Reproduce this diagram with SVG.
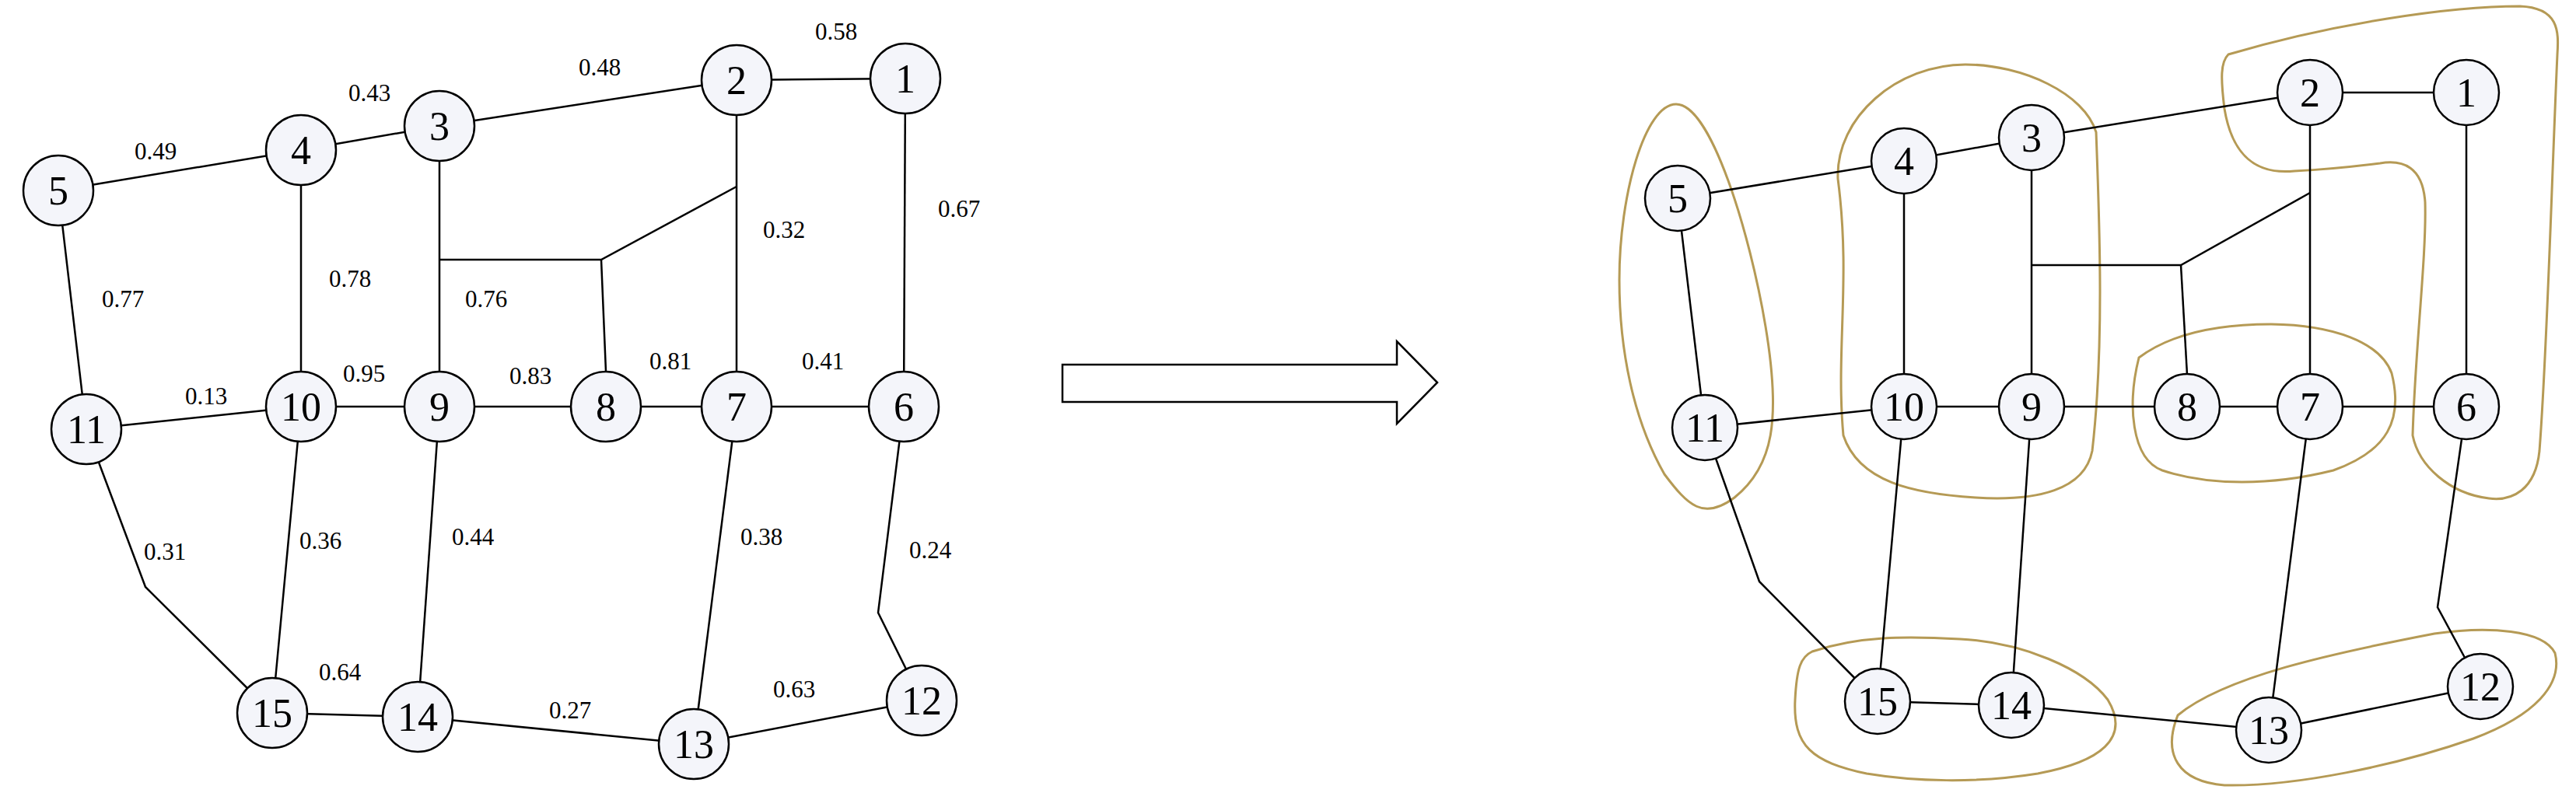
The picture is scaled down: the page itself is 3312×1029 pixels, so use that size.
<svg xmlns="http://www.w3.org/2000/svg" width="3312" height="1029" viewBox="0 0 3312 1029">
<style>
.e{stroke:#000;stroke-width:2.5;fill:none}
.n circle{fill:#f4f5fa;stroke:#000;stroke-width:2.5}
.n text{font-family:"Liberation Serif",serif;font-size:52px;text-anchor:middle;dominant-baseline:central}
.w{font-family:"Liberation Serif",serif;font-size:31px;text-anchor:middle;dominant-baseline:central}
.c{fill:none;stroke:#b59a55;stroke-width:3}
</style>
<rect width="3312" height="1029" fill="#fff"/>
<g id="connectors-left" class="e">
<line x1="947" y1="103" x2="1164" y2="101"/>
<line x1="565" y1="162" x2="947" y2="103"/>
<line x1="387" y1="193" x2="565" y2="162"/>
<line x1="75" y1="245" x2="387" y2="193"/>
<line x1="1164" y1="101" x2="1162" y2="523"/>
<line x1="947" y1="103" x2="947" y2="523"/>
<line x1="565" y1="162" x2="565" y2="523"/>
<line x1="387" y1="193" x2="387" y2="523"/>
<line x1="75" y1="245" x2="111" y2="552"/>
<polyline points="565,334 773,334 947,240"/>
<line x1="773" y1="334" x2="779" y2="478"/>
<line x1="111" y1="552" x2="387" y2="523"/>
<line x1="387" y1="523" x2="1162" y2="523"/>
<polyline points="111,552 187,755 350,917"/>
<line x1="387" y1="523" x2="350" y2="917"/>
<line x1="565" y1="523" x2="537" y2="922"/>
<line x1="947" y1="523" x2="892" y2="957"/>
<polyline points="1162,523 1129,788 1185,901"/>
<line x1="350" y1="917" x2="537" y2="922"/>
<line x1="537" y1="922" x2="892" y2="957"/>
<line x1="892" y1="957" x2="1185" y2="901"/>
</g>
<g id="weights">
<text class="w" x="1075" y="40">0.58</text><text class="w" x="771" y="86">0.48</text>
<text class="w" x="475" y="119">0.43</text><text class="w" x="200" y="194">0.49</text>
<text class="w" x="1233" y="268">0.67</text><text class="w" x="1008" y="295">0.32</text>
<text class="w" x="450" y="358">0.78</text><text class="w" x="625" y="384">0.76</text>
<text class="w" x="158" y="384">0.77</text><text class="w" x="468" y="480">0.95</text>
<text class="w" x="682" y="483">0.83</text><text class="w" x="862" y="464">0.81</text>
<text class="w" x="1058" y="464">0.41</text><text class="w" x="265" y="509">0.13</text>
<text class="w" x="212" y="709">0.31</text><text class="w" x="412" y="695">0.36</text>
<text class="w" x="608" y="690">0.44</text><text class="w" x="979" y="690">0.38</text>
<text class="w" x="1196" y="707">0.24</text><text class="w" x="437" y="864">0.64</text>
<text class="w" x="733" y="913">0.27</text><text class="w" x="1021" y="886">0.63</text>
</g>
<g id="L1" class="n"><circle cx="1164" cy="101" r="45"/><text x="1164" y="101">1</text></g>
<g id="L2" class="n"><circle cx="947" cy="103" r="45"/><text x="947" y="103">2</text></g>
<g id="L3" class="n"><circle cx="565" cy="162" r="45"/><text x="565" y="162">3</text></g>
<g id="L4" class="n"><circle cx="387" cy="193" r="45"/><text x="387" y="193">4</text></g>
<g id="L5" class="n"><circle cx="75" cy="245" r="45"/><text x="75" y="245">5</text></g>
<g id="L6" class="n"><circle cx="1162" cy="523" r="45"/><text x="1162" y="523">6</text></g>
<g id="L7" class="n"><circle cx="947" cy="523" r="45"/><text x="947" y="523">7</text></g>
<g id="L8" class="n"><circle cx="779" cy="523" r="45"/><text x="779" y="523">8</text></g>
<g id="L9" class="n"><circle cx="565" cy="523" r="45"/><text x="565" y="523">9</text></g>
<g id="L10" class="n"><circle cx="387" cy="523" r="45"/><text x="387" y="523">10</text></g>
<g id="L11" class="n"><circle cx="111" cy="552" r="45"/><text x="111" y="552">11</text></g>
<g id="L12" class="n"><circle cx="1185" cy="901" r="45"/><text x="1185" y="901">12</text></g>
<g id="L13" class="n"><circle cx="892" cy="957" r="45"/><text x="892" y="957">13</text></g>
<g id="L14" class="n"><circle cx="537" cy="922" r="45"/><text x="537" y="922">14</text></g>
<g id="L15" class="n"><circle cx="350" cy="917" r="45"/><text x="350" y="917">15</text></g>
<g id="arrow"><polygon points="1366,469 1796,469 1796,439 1848,492 1796,545 1796,517 1366,517" fill="#fff" stroke="#000" stroke-width="2.5"/></g>
<g id="clusters" class="c">
<path d="M2155,134 C2200,134 2250,300 2270,420 C2290,540 2280,600 2230,640 C2190,670 2170,650 2140,610 C2100,540 2082,450 2082,360 C2082,250 2115,134 2155,134 Z"/>
<path d="M2527,83 C2600,83 2680,120 2695,170 C2700,300 2705,450 2690,580 C2680,630 2620,645 2540,640 C2460,635 2390,620 2370,560 C2360,450 2380,360 2363,230 C2360,150 2440,83 2527,83 Z"/>
<path d="M2865,70 C3000,30 3150,8 3240,8 C3290,10 3290,40 3288,70 C3280,250 3275,450 3265,580 C3260,630 3230,645 3200,641 C3150,635 3110,600 3102,560 C3105,450 3120,330 3118,260 C3115,215 3090,205 3060,210 C3020,215 2990,218 2950,220 C2900,225 2870,200 2860,140 C2855,100 2855,80 2865,70 Z"/>
<path d="M2750,460 C2790,430 2850,417 2920,417 C3000,418 3060,440 3075,480 C3090,540 3070,580 3000,605 C2920,625 2840,625 2780,605 C2740,590 2735,520 2750,460 Z"/>
<path d="M2330,838 C2390,818 2450,818 2520,822 C2600,826 2680,860 2710,900 C2740,950 2700,980 2620,995 C2540,1008 2460,1005 2400,995 C2330,980 2305,960 2308,900 C2310,860 2315,845 2330,838 Z"/>
<path d="M2800,920 C2860,870 3000,840 3130,815 C3200,805 3270,810 3285,840 C3295,880 3260,920 3180,950 C3080,985 2950,1012 2860,1010 C2800,1005 2780,970 2800,920 Z"/>
</g>
<g id="connectors-right" class="e">
<line x1="2970" y1="119" x2="3171" y2="119"/>
<line x1="2612" y1="177" x2="2970" y2="119"/>
<line x1="2448" y1="207" x2="2612" y2="177"/>
<line x1="2157" y1="255" x2="2448" y2="207"/>
<line x1="3171" y1="119" x2="3171" y2="523"/>
<line x1="2970" y1="119" x2="2970" y2="523"/>
<line x1="2612" y1="177" x2="2612" y2="523"/>
<line x1="2448" y1="207" x2="2448" y2="523"/>
<line x1="2157" y1="255" x2="2192" y2="550"/>
<polyline points="2612,341 2804,341 2970,248"/>
<line x1="2804" y1="341" x2="2812" y2="482"/>
<line x1="2192" y1="550" x2="2448" y2="523"/>
<line x1="2448" y1="523" x2="3171" y2="523"/>
<polyline points="2192,550 2262,748 2414,902"/>
<line x1="2448" y1="523" x2="2414" y2="902"/>
<line x1="2612" y1="523" x2="2586" y2="907"/>
<line x1="2970" y1="523" x2="2917" y2="939"/>
<polyline points="3171,523 3134,781 3189,883"/>
<line x1="2414" y1="902" x2="2586" y2="907"/>
<line x1="2586" y1="907" x2="2917" y2="939"/>
<line x1="2917" y1="939" x2="3189" y2="883"/>
</g>
<g id="R1" class="n"><circle cx="3171" cy="119" r="42"/><text x="3171" y="119">1</text></g>
<g id="R2" class="n"><circle cx="2970" cy="119" r="42"/><text x="2970" y="119">2</text></g>
<g id="R3" class="n"><circle cx="2612" cy="177" r="42"/><text x="2612" y="177">3</text></g>
<g id="R4" class="n"><circle cx="2448" cy="207" r="42"/><text x="2448" y="207">4</text></g>
<g id="R5" class="n"><circle cx="2157" cy="255" r="42"/><text x="2157" y="255">5</text></g>
<g id="R6" class="n"><circle cx="3171" cy="523" r="42"/><text x="3171" y="523">6</text></g>
<g id="R7" class="n"><circle cx="2970" cy="523" r="42"/><text x="2970" y="523">7</text></g>
<g id="R8" class="n"><circle cx="2812" cy="523" r="42"/><text x="2812" y="523">8</text></g>
<g id="R9" class="n"><circle cx="2612" cy="523" r="42"/><text x="2612" y="523">9</text></g>
<g id="R10" class="n"><circle cx="2448" cy="523" r="42"/><text x="2448" y="523">10</text></g>
<g id="R11" class="n"><circle cx="2192" cy="550" r="42"/><text x="2192" y="550">11</text></g>
<g id="R12" class="n"><circle cx="3189" cy="883" r="42"/><text x="3189" y="883">12</text></g>
<g id="R13" class="n"><circle cx="2917" cy="939" r="42"/><text x="2917" y="939">13</text></g>
<g id="R14" class="n"><circle cx="2586" cy="907" r="42"/><text x="2586" y="907">14</text></g>
<g id="R15" class="n"><circle cx="2414" cy="902" r="42"/><text x="2414" y="902">15</text></g>
</svg>
